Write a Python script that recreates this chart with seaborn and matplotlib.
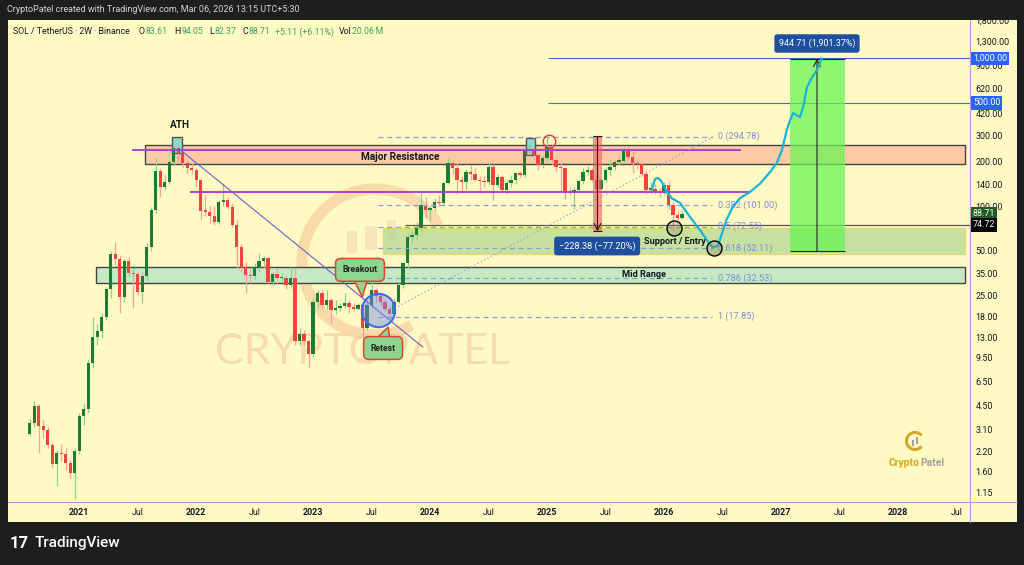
import numpy as np
import pandas as pd
import matplotlib
matplotlib.use("Agg")
import matplotlib.pyplot as plt
import matplotlib.dates as mdates
from matplotlib.patches import Rectangle, Polygon, Arc
from matplotlib.lines import Line2D
from matplotlib.ticker import NullLocator
from matplotlib.transforms import blended_transform_factory, IdentityTransform
import seaborn as sns

# ---------------------------------------------------------------- data
START = "2020-08-10"   # first 2-week candle (SOL/USDT, Binance)

opens = [2.87, 3.39, 4.44, 3.26, 3.06, 2.42, 1.79, 2.15, 2.11, 1.84,
         1.56, 2.19, 3.80, 4.22, 8.63, 12.95, 14.3, 17.9, 27.5, 47.4,
         44.1, 24.4, 42.2, 35.1, 34.6, 26.4, 33.6, 53.1, 94.2, 173.8,
         135.4, 146, 200, 246, 228, 195, 180, 176, 149, 93.2,
         91.7, 85.8, 78.5, 107.2, 110, 99.2, 74.5, 52.6, 38.5, 34.3,
         33.6, 38.9, 42.2, 44.4, 30.8, 34.7, 32.5, 32.8, 29.3, 32.5,
         12.3, 13.6, 12.3, 10.0, 22.6, 26.0, 21.4, 23.2, 19.8, 20.6,
         21.0, 22.0, 20.8, 20.2, 21.4, 14.9, 21.5, 27.0, 24.5, 22.5,
         20.0, 18.5, 22.6, 29.3, 41.0, 62.1, 63.8, 70.7, 101.7, 94.1,
         96.6, 107.2, 104.4, 142.6, 195, 182, 150, 146, 171, 164,
         150, 148, 146, 185, 139, 158, 128.6, 142.6, 150, 167,
         162, 236, 240, 221, 190, 210, 252, 205, 185, 180,
         126, 122, 129, 147, 171, 175, 150, 131, 150, 176,
         185, 200, 203, 240, 216, 195, 192, 166, 129, 131,
         125, 122, 139, 101.7, 87, 83.61]
highs = [3.60, 4.80, 4.60, 3.60, 3.20, 2.55, 2.25, 2.45, 2.30, 1.92,
         2.30, 4.00, 4.60, 9.30, 17.9, 16.0, 19.0, 28.5, 50.0, 57.5,
         47.0, 44.0, 45.0, 38.0, 36.0, 36.0, 56.0, 98.0, 216, 180,
         162, 205, 259, 252, 240, 205, 195, 180, 152, 118,
         100, 100, 110, 142.6, 115, 105, 80, 55, 42, 38,
         41, 47.9, 46, 45, 36, 38, 35, 34, 38.5, 38,
         15, 14.5, 12.5, 24, 27, 27, 27, 24, 23, 22,
         26, 23, 22, 22, 22, 23, 32, 28, 26, 23.5,
         21, 23.5, 30, 42, 65, 68, 78, 126, 115, 100,
         113, 118, 148, 210, 205, 195, 160, 178, 190, 180,
         160, 160, 195, 193, 165, 162, 150, 162, 170, 172,
         240, 264, 248, 226, 222, 295, 262, 210, 195, 182,
         135, 135, 152, 180, 187, 182, 158, 155, 185, 206,
         209, 218, 253, 250, 236, 205, 198, 172, 145, 140,
         132, 146, 148, 106, 92, 94.05]
lows = [2.80, 3.20, 2.13, 2.70, 2.30, 1.70, 1.28, 1.90, 1.65, 1.44,
        1.05, 2.10, 3.30, 4.00, 8.00, 11.5, 12.8, 17.0, 24.0, 40.0,
        19.0, 22.5, 33.0, 20.3, 25.0, 22.0, 31.0, 50.0, 90.0, 116,
        128, 140, 190, 200, 185, 165, 165, 135, 80.6, 86,
        76.5, 75, 76, 100, 95, 72, 37.9, 36, 26, 30,
        32, 36, 38, 30, 29, 30, 31, 27.4, 28, 11.5,
        11.5, 11.5, 8.0, 9.5, 20.5, 20, 20, 16.1, 18.5, 19.5,
        20.3, 19.0, 19.5, 19.8, 13.1, 14.5, 20.5, 22.5, 21, 19.5,
        17.3, 18, 22, 28, 38, 56, 60, 68, 83, 79,
        93, 100, 102, 140, 165, 120, 125, 130, 150, 148,
        122, 135, 140, 110, 135, 126, 120, 135, 142, 155,
        158, 220, 205, 175, 182, 200, 190, 170, 125, 112,
        118, 96, 126, 142, 163, 146, 126, 130, 146, 160,
        175, 190, 200, 205, 168, 178, 160, 121, 122, 120,
        116, 120, 96, 67.5, 78, 82.37]
closes = [3.39, 4.44, 3.26, 3.06, 2.42, 1.79, 2.15, 2.11, 1.84, 1.56,
          2.19, 3.80, 4.22, 8.63, 12.95, 14.3, 17.9, 27.5, 47.4, 44.1,
          24.4, 42.2, 35.1, 34.6, 26.4, 33.6, 53.1, 94.2, 173.8, 135.4,
          146, 200, 246, 228, 195, 180, 176, 149, 93.2, 91.7,
          85.8, 78.5, 107.2, 110, 99.2, 74.5, 52.6, 38.5, 34.3, 33.6,
          38.9, 42.2, 44.4, 30.8, 34.7, 32.5, 32.8, 29.3, 32.5, 12.3,
          13.6, 12.3, 10.0, 22.6, 26.0, 21.4, 23.2, 19.8, 20.6, 21.0,
          22.0, 20.8, 20.2, 21.4, 14.9, 21.5, 27.0, 24.5, 22.5, 20.0,
          18.5, 22.6, 29.3, 41.0, 62.1, 63.8, 70.7, 101.7, 94.1, 96.6,
          107.2, 104.4, 142.6, 195, 182, 150, 146, 171, 164, 150,
          148, 146, 185, 139, 158, 128.6, 142.6, 150, 167, 162,
          236, 240, 221, 190, 210, 252, 205, 185, 180, 126,
          122, 129, 147, 171, 175, 150, 131, 150, 176, 185,
          200, 203, 240, 216, 195, 192, 166, 129, 131, 125,
          122, 139, 101.7, 87, 83.61, 88.71]

# projected path (cyan curve)
proj_dates = ["2025-11-28", "2025-12-08", "2025-12-18", "2025-12-29", "2026-01-13",
              "2026-01-29", "2026-02-24", "2026-03-27", "2026-04-27", "2026-05-22",
              "2026-06-06", "2026-06-22", "2026-07-03", "2026-07-18", "2026-08-07",
              "2026-08-30", "2026-09-29", "2026-10-30", "2026-12-01", "2026-12-22",
              "2027-01-07", "2027-01-22", "2027-02-01", "2027-02-11", "2027-03-04",
              "2027-03-14", "2027-03-26", "2027-04-11", "2027-04-26", "2027-05-11"]
proj_prices = [128.5, 152.5, 155, 146, 125, 113, 105, 84.4, 68.9, 57.4,
               52.4, 54, 63.8, 80.5, 98.6, 113.4, 124.4, 141.2, 170.2, 195.7,
               239.7, 327, 382, 426, 400, 468, 639, 747, 833, 1000]

price_ticks = [1800, 1300, 900, 620, 420, 300, 200, 140, 100, 70, 50, 35,
               25, 18, 13, 9.5, 6.5, 4.5, 3.1, 2.2, 1.6, 1.15]
fib_ratios = ["0", "0.382", "0.5", "0.618", "0.786", "1"]
fib_prices = [294.78, 101.00, 72.55, 52.11, 32.53, 17.85]
resistance_zone = (192.6, 259.0)
mid_range_zone = (30.3, 38.9)
support_zone = (47.4, 71.4)
purple_levels = [240.0, 125.0]
entry_line = 74.72
last_close = 88.71
target_levels = [1000.0, 500.0]
drop_top, drop_bottom = 295.83, 67.45
rise_bottom, rise_top = 49.69, 994.40
drop_label = "\u2212228.38 (\u221277.20%)"
rise_label = "944.71 (1,901.37%)"
legend_groups = [("", "SOL / TetherUS \u00b7 2W \u00b7 Binance"), ("O", "83.61"),
                 ("H", "94.05"), ("L", "82.37"), ("C", "88.71"),
                 ("", "+5.11 (+6.11%)"), ("Vol", "20.06\u2009M")]

# ---------------------------------------------------------------- style
sns.set_theme(style="white")
plt.rcParams["font.family"] = ["Roboto", "DejaVu Sans"]

BG = "#FFF9C4"
DARK = "#1E1E1E"
TXT = "#131722"
GREEN_TXT = "#3DA35D"
W, H = 1024, 565


def fx(x):
    return x / W


def fy(y):
    return 1 - y / H


def d(s):
    return mdates.date2num(pd.Timestamp(s))


fig = plt.figure(figsize=(W / 100, H / 100), dpi=100, facecolor=DARK)
fig.add_artist(Rectangle((fx(8), fy(522)), (1017 - 8) / W, (522 - 20) / H,
                         transform=fig.transFigure, facecolor=BG,
                         edgecolor="none", zorder=-10))

ax = fig.add_axes([fx(8), fy(502), 962 / W, 482 / H])
ax.set_facecolor("none")
for s in ax.spines.values():
    s.set_visible(False)
ax.set_yscale("log")

# ---------------------------------------------------------------- watermark
pix = IdentityTransform()
ax.add_patch(Arc((375, H - 262), 146, 146, theta1=30, theta2=300, transform=pix,
                 color="#F6D2A0", lw=8, alpha=0.75, zorder=1))
for (px0, py0, pw, ph) in [(347, 253, 10, 22), (365, 250, 12, 24), (387, 240, 9, 20)]:
    ax.add_patch(Rectangle((px0, H - py0), pw, ph, transform=pix,
                           facecolor="#F1DAB3", edgecolor="none", alpha=0.6, zorder=1))
ax.text(0.369, 0.311, "CRYPTOPATEL", transform=ax.transAxes, fontsize=31,
        color="#F5CA9C", alpha=0.62, ha="center", va="center",
        family=["Lato", "DejaVu Sans"], fontweight="normal", zorder=1)

# ---------------------------------------------------------------- zones
def zone(x0, x1, y0, y1, **kw):
    ax.add_patch(Rectangle((d(x0), y0), d(x1) - d(x0), y1 - y0, **kw))


RIGHT_END = "2028-07-30"
zone("2021-08-05", RIGHT_END, *resistance_zone, facecolor="#FCCBA4",
     edgecolor="#444444", lw=1.0, zorder=2)
zone("2021-03-05", RIGHT_END, *mid_range_zone, facecolor="#C5EAC3",
     edgecolor="#444444", lw=1.0, zorder=2)
zone("2023-08-15", RIGHT_END, *support_zone, facecolor="#A3D188",
     edgecolor="#F0C850", lw=1.0, alpha=0.6, zorder=2)
zone("2021-10-28", "2021-11-28", 227.6, 295, facecolor="#8FD8C6",
     edgecolor="#555555", lw=1.0, zorder=2.5)
zone("2024-11-01", "2024-11-29", 222, 289, facecolor="#8FD8C6",
     edgecolor="#555555", lw=1.0, zorder=2.5)

# ---------------------------------------------------------------- candles
dates = pd.date_range(START, periods=len(closes), freq="14D")
xs = mdates.date2num(dates)
o, h, l, c = map(np.array, (opens, highs, lows, closes))
up = c >= o
b_lo = np.minimum(o, c)
b_hi = np.maximum(np.maximum(o, c), b_lo * 1.02)
ax.vlines(xs[up], l[up], h[up], color="#8ECF8E", lw=0.9, zorder=3)
ax.vlines(xs[~up], l[~up], h[~up], color="#F3A3A3", lw=0.9, zorder=3)
ax.bar(xs[up], (b_hi - b_lo)[up], bottom=b_lo[up], width=9.5,
       color="#1F7A33", lw=0, zorder=4)
ax.bar(xs[~up], (b_hi - b_lo)[~up], bottom=b_lo[~up], width=9.5,
       color="#F2433D", lw=0, zorder=4)

# ---------------------------------------------------------------- lines
ax.hlines(purple_levels[0], d("2021-06-25"), d("2026-09-01"), color="#B03FD0", lw=1.4, zorder=5)
ax.hlines(purple_levels[1], d("2021-12-23"), d("2026-09-29"), color="#B03FD0", lw=1.4, zorder=5)
ax.hlines(fib_prices, d("2023-07-30"), d("2026-06-04"), colors="#8E9CD8",
          linestyles=(0, (4, 3)), lw=0.9, zorder=5)
for r, p in zip(fib_ratios, fib_prices):
    ax.text(d("2026-06-22"), p, f"{r} ({p:.2f})", color="#7E8FD8", fontsize=6.6,
            va="center", ha="left", zorder=6)
XMAX = d("2028-08-14")
ax.hlines(entry_line, d("2023-10-22"), XMAX, color="#555555", lw=0.9, zorder=5)
ax.hlines(target_levels, d("2025-01-09"), XMAX, color="#4169E1", lw=0.8, zorder=5)
ax.plot([d("2021-11-15"), d("2023-12-17")], [247, 11.1], color="#6B5FD0", lw=0.8, zorder=5)
ax.plot([d("2023-10-01"), d("2026-06-07")], [21.0, 294.78], color="#8EA2D8",
        ls=(0, (1, 2)), lw=0.9, zorder=5)

# ---------------------------------------------------------------- measure bands
zone("2025-05-29", "2025-06-26", drop_bottom, drop_top, facecolor="#F05A5A",
     edgecolor="none", alpha=0.6, zorder=5)
ax.hlines([drop_top, drop_bottom], d("2025-05-29"), d("2025-06-26"), color="#222222", lw=0.8, zorder=6)
ax.annotate("", xy=(d("2025-06-12"), drop_bottom), xytext=(d("2025-06-12"), drop_top),
            arrowprops=dict(arrowstyle="->", color="#222222", lw=0.8, shrinkA=0, shrinkB=0),
            zorder=6)
ax.text(d("2025-06-11"), 53.7, drop_label, color="white", fontsize=6.6, ha="center",
        va="center", zorder=9,
        bbox=dict(boxstyle="round,pad=0.5,rounding_size=0.3", fc="#1F4F9F", ec="none"))

zone("2027-02-01", "2027-07-22", rise_bottom, rise_top, facecolor="#66F451",
     edgecolor="none", alpha=0.72, zorder=5)
ax.hlines([rise_top, rise_bottom], d("2027-02-01"), d("2027-07-22"), color="#222222", lw=0.8, zorder=6)
ax.annotate("", xy=(d("2027-04-26"), rise_top), xytext=(d("2027-04-26"), rise_bottom),
            arrowprops=dict(arrowstyle="->", color="#222222", lw=0.8, shrinkA=0, shrinkB=0),
            zorder=6)
ax.text(d("2027-04-26"), 1259, rise_label, color="white", fontsize=6.4, ha="center",
        va="center", zorder=9,
        bbox=dict(boxstyle="round,pad=0.5,rounding_size=0.3", fc="#1F4F9F", ec="none"))

# ---------------------------------------------------------------- projection
proj = pd.DataFrame({"x": mdates.date2num(pd.to_datetime(proj_dates)), "y": proj_prices})
sns.lineplot(data=proj, x="x", y="y", ax=ax, color="#18B4D8", lw=1.6, sort=False,
             estimator=None, zorder=7)

# ---------------------------------------------------------------- circles
ax.plot([d("2023-07-31")], [19.8], "o", ms=24, mfc=(0.45, 0.55, 0.92, 0.45),
        mec="#3D6BF5", mew=1.5, zorder=7)
ax.plot([d("2025-01-12")], [275], "o", ms=9, mfc="none", mec="#E53935", mew=1.0, zorder=7)
ax.plot([d("2026-02-05"), d("2026-06-09")], [71.2, 52.3], "o", ls="none", ms=10.8,
        mfc=(0.55, 0.5, 0.4, 0.3), mec="black", mew=1.0, zorder=8)

# ---------------------------------------------------------------- callouts
ax.add_patch(Polygon([(d("2023-05-14"), 32.5), (d("2023-06-29"), 32.5), (d("2023-06-11"), 24.3)],
                     closed=True, facecolor="#8FD48F", edgecolor="#E0452E", lw=1.1, zorder=8))
ax.text(d("2023-06-04"), 37.0, "Breakout", fontsize=6.2, fontweight="bold", color="#222222",
        ha="center", va="center", zorder=9,
        bbox=dict(boxstyle="round,pad=0.8,rounding_size=0.6", fc="#8FD48F", ec="#E0452E", lw=1.1))
ax.add_patch(Polygon([(d("2023-07-21"), 12.4), (d("2023-09-05"), 12.4), (d("2023-08-31"), 15.2)],
                     closed=True, facecolor="#8FD48F", edgecolor="#E0452E", lw=1.1, zorder=8))
ax.text(d("2023-08-15"), 10.96, "Retest", fontsize=6.2, fontweight="bold", color="#222222",
        ha="center", va="center", zorder=9,
        bbox=dict(boxstyle="round,pad=0.8,rounding_size=0.6", fc="#8FD48F", ec="#E0452E", lw=1.1))

# ---------------------------------------------------------------- labels
ax.text(d("2021-11-21"), 356, "ATH", fontsize=7.2, fontweight="bold", color=TXT,
        ha="center", va="center", zorder=9)
ax.text(d("2023-10-06"), 215, "Major Resistance", fontsize=7.2, fontweight="bold",
        color=TXT, ha="center", va="center", zorder=9)
ax.text(d("2025-11-04"), 34.2, "Mid Range", fontsize=6.6, fontweight="bold",
        color=TXT, ha="center", va="center", zorder=9)
ax.text(d("2026-02-08"), 57.2, "Support / Entry", fontsize=6.6, fontweight="bold",
        color=TXT, ha="center", va="center", zorder=9)

# ---------------------------------------------------------------- axes
ax.set_xlim(d("2020-06-04"), XMAX)
ax.set_ylim(0.9954, 1815.6)
ax.set_xlabel("")
ax.set_ylabel("")
ax.yaxis.tick_right()
ax.set_yticks(price_ticks)
ax.set_yticklabels([f"{v:,.2f}" for v in price_ticks])
ax.yaxis.set_minor_locator(NullLocator())
ax.tick_params(axis="y", length=0, pad=4, labelsize=6.4, labelcolor=TXT)

all_dates = pd.date_range(START, periods=215, freq="14D")
tick_pos, tick_lab = [], []
for yr in range(2021, 2029):
    for mon, lab in [(1, str(yr)), (7, "Jul")]:
        t = all_dates[all_dates >= pd.Timestamp(yr, mon, 1)][0]
        tick_pos.append(mdates.date2num(t))
        tick_lab.append(lab)
ax.set_xticks(tick_pos)
ax.set_xticklabels(tick_lab)
ax.xaxis.set_minor_locator(NullLocator())
ax.tick_params(axis="x", length=0, pad=4, labelsize=6.4, labelcolor=TXT)
for t in ax.get_xticklabels():
    if t.get_text() != "Jul":
        t.set_fontweight("bold")

ytrans = blended_transform_factory(ax.transAxes, ax.transData)
for val, txt, fc in [(target_levels[0], "1,000.00", "#2962FF"),
                     (target_levels[1], "500.00", "#2962FF"),
                     (last_close, f"{last_close:.2f}", "#1E5E26"),
                     (entry_line, f"{entry_line:.2f}", "#000000")]:
    ax.text(1.003, val, txt, transform=ytrans, fontsize=6.4, color="white",
            ha="left", va="center", clip_on=False, zorder=10,
            bbox=dict(boxstyle="square,pad=0.25", fc=fc, ec="none"))

# separators
fig.add_artist(Line2D([fx(970), fx(970)], [fy(522), fy(20)], transform=fig.transFigure,
                      color="#C98FD9", lw=0.8, zorder=5))
fig.add_artist(Line2D([fx(8), fx(1017)], [fy(502), fy(502)], transform=fig.transFigure,
                      color="#C98FD9", lw=0.8, zorder=5))

# header strip & texts
fig.add_artist(Rectangle((0, fy(20)), 1, 20 / H, transform=fig.transFigure,
                         facecolor=DARK, edgecolor="none", zorder=20))
fig.text(fx(7), fy(10), "CryptoPatel created with TradingView.com, Mar 06, 2026 13:15 UTC+5:30",
         color="#D1D4DC", fontsize=6.5, va="center", ha="left", zorder=21)

# legend row laid out piece by piece using measured text widths
renderer = fig.canvas.get_renderer()
group_x = [12.7, 138.3, 174.7, 209.3, 242.3, 275.0, 338.7]
for gx, (key, val) in zip(group_x, legend_groups):
    x_cur = gx
    if key:
        t = fig.text(fx(x_cur), fy(32), key, color=TXT, fontsize=6.3, va="center",
                     ha="left", zorder=21)
        x_cur += t.get_window_extent(renderer).width + 0.8
    fig.text(fx(x_cur), fy(32), val, color=TXT if not key and gx < 100 else GREEN_TXT,
             fontsize=6.3, va="center", ha="left", zorder=21)

# footer
fig.text(fx(10), fy(543), "17", color="white", fontsize=12, fontweight="bold",
         va="center", ha="left")
fig.text(fx(35), fy(543), "TradingView", color="white", fontsize=11, fontweight="medium",
         va="center", ha="left")

# bottom-right logo
fig.add_artist(Arc((915, H - 441), 17, 17, theta1=40, theta2=320, transform=pix,
                   color="#D4A72C", lw=2.2))
fig.add_artist(Rectangle((912, H - 446), 2, 6, transform=pix, facecolor="#A0A0A0", edgecolor="none"))
fig.add_artist(Rectangle((916, H - 444), 2, 7, transform=pix, facecolor="#A0A0A0", edgecolor="none"))
fig.text(fx(920), fy(463), "Crypto", color="#D9A521", fontsize=7.5, fontweight="bold",
         va="center", ha="right")
fig.text(fx(920), fy(463), "Patel", color="#A8A29A", fontsize=7.5, fontweight="bold",
         va="center", ha="left")

fig.savefig("out.png", dpi=100, facecolor=DARK)
